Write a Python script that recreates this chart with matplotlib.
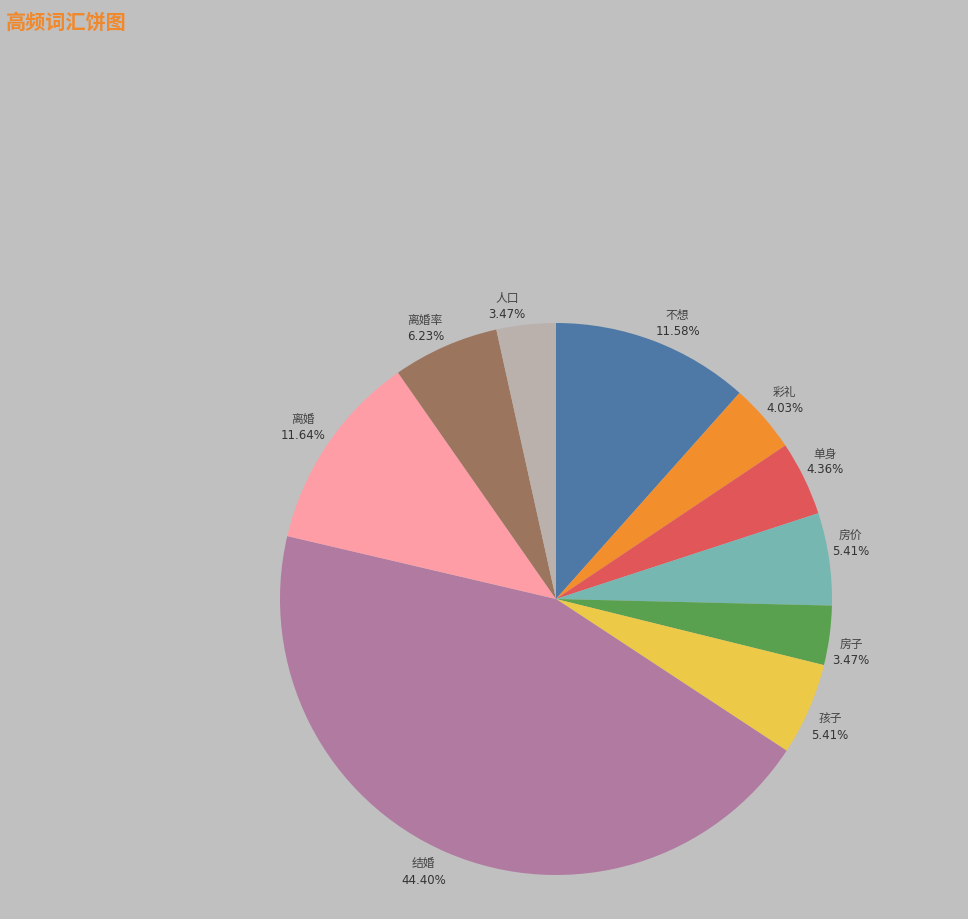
import numpy as np
import matplotlib
matplotlib.use('Agg')
from matplotlib import pyplot as plt

plt.rcParams['font.family'] = ['DejaVu Sans', 'Noto Sans CJK SC']

labels = ['不想', '彩礼', '单身', '房价', '房子', '孩子', '结婚', '离婚', '离婚率', '人口']
values = [11.58, 4.03, 4.36, 5.41, 3.47, 5.41, 44.40, 11.64, 6.23, 3.47]
colors = ['#4e79a7', '#f28e2b', '#e15759', '#76b7b2', '#59a14f',
          '#edc948', '#b07aa1', '#ff9da7', '#9c755f', '#bab0ac']

W, H = 968, 920
bg = '#c0c0c0'
fig = plt.figure(figsize=(W / 100, H / 100), dpi=100, facecolor=bg)

# pie centre (556, 600) px, radius 276 px
cx, cy, R, half = 556, 600, 276, 300
ax = fig.add_axes([(cx - half) / W, (H - cy - half) / H, 2 * half / W, 2 * half / H])
ax.set_facecolor(bg)
ax.axis('off')
lim = half / R

wedges, _ = ax.pie(values, colors=colors, startangle=90, counterclock=False,
                   radius=1, wedgeprops=dict(linewidth=0))
ax.set_xlim(-lim, lim)
ax.set_ylim(-lim, lim)
ax.set_aspect('equal')

renderer = fig.canvas.get_renderer()

# label block corner sits just outside the slice's mid-angle point
total = sum(values)
start = 90
for name, v in zip(labels, values):
    mid = np.deg2rad(start - v / total * 360 / 2)
    start -= v / total * 360
    x, y = 1.01 * np.cos(mid), 1.01 * np.sin(mid)
    ha = 'left' if x > 0.02 else ('right' if x < -0.02 else 'center')
    if y > 0:
        dy_pct, dy_name = 8, 24
    else:
        dy_pct, dy_name = -24, -7
    pct = ax.annotate('%.2f%%' % v, (x, y), xytext=(0, dy_pct),
                      textcoords='offset pixels', ha=ha, va='center',
                      fontsize=8.5, color='#333333', annotation_clip=False)
    bb = pct.get_window_extent(renderer)
    off = (bb.x0 + bb.x1) / 2 - ax.transData.transform((x, y))[0]
    ax.annotate(name, (x, y), xytext=(off, dy_name), textcoords='offset pixels',
                ha='center', va='center', fontsize=8.5, color='#444444',
                family=['Noto Sans CJK SC', 'DejaVu Sans'], annotation_clip=False)

fig.text(6 / W, 1 - 22 / H, '高频词汇饼图', fontsize=14.5, fontweight='bold',
         color='#f0882c', ha='left', va='center',
         family=['Noto Sans CJK SC', 'DejaVu Sans'])

fig.savefig('out.png', dpi=100, facecolor=bg)
